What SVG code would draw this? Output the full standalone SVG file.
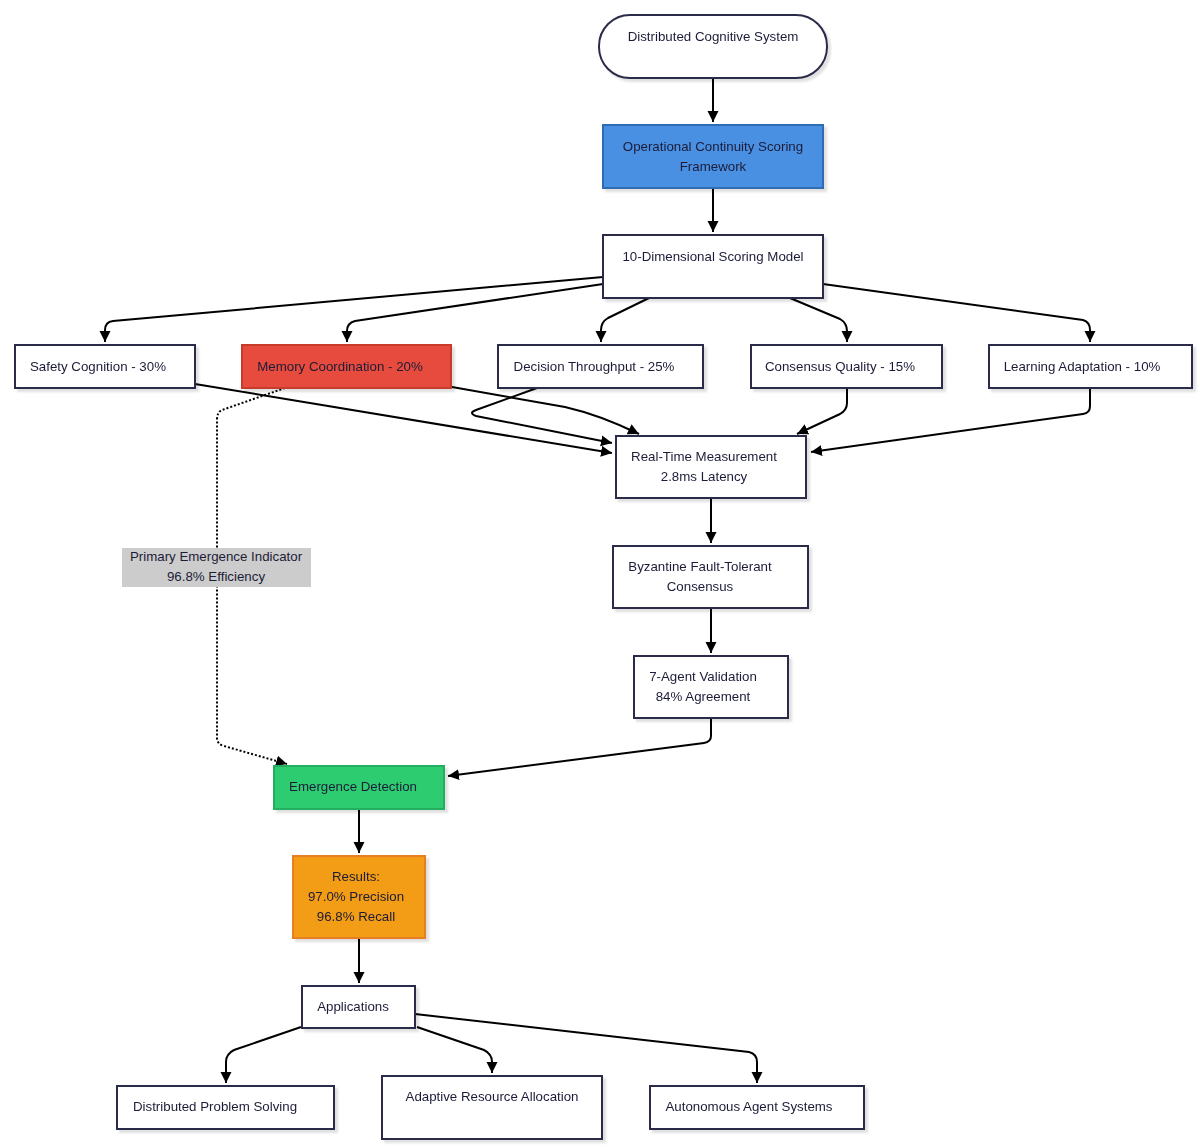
<svg xmlns="http://www.w3.org/2000/svg" width="1200" height="1147" viewBox="0 0 1200 1147">
<style>
.n{fill:#ffffff;stroke:#2b2b4a;stroke-width:2}
.t{font-family:"Liberation Sans",Arial,sans-serif;font-size:13.3px;fill:#1c1c38;text-anchor:middle}
.c{fill:none;stroke:#000;stroke-width:2}
.d{fill:none;stroke:#000;stroke-width:2;stroke-dasharray:2 2}
</style>
<defs>
<marker id="ah" markerUnits="userSpaceOnUse" markerWidth="12" markerHeight="12" refX="11" refY="6" orient="auto">
<path d="M0,0.5 L11,6 L0,11.5 z" fill="#000"/>
</marker>
<filter id="sh" x="-10%" y="-10%" width="130%" height="140%">
<feDropShadow dx="3" dy="3" stdDeviation="1.2" flood-color="#000" flood-opacity="0.12"/>
</filter>
</defs>
<rect width="1200" height="1147" fill="#ffffff"/>
<g id="connectors">
<path class="c" d="M713,78 L713,122" marker-end="url(#ah)"/>
<path class="c" d="M713,189 L713,232" marker-end="url(#ah)"/>
<path class="c" d="M603,277 L113,321 Q105,322 105,330 L105,342" marker-end="url(#ah)"/>
<path class="c" d="M603,284 L355,321 Q347,323 347,331 L347,342" marker-end="url(#ah)"/>
<path class="c" d="M649,298 L608,318 Q601,322 601,330 L601,342" marker-end="url(#ah)"/>
<path class="c" d="M790,298 L840,319 Q847,323 847,331 L847,342" marker-end="url(#ah)"/>
<path class="c" d="M823,284 L1083,320 Q1090,322 1090,330 L1090,342" marker-end="url(#ah)"/>
<path class="c" d="M195,384 L612,453" marker-end="url(#ah)"/>
<path class="c" d="M452,387 L565,407 Q600,415 639,434" marker-end="url(#ah)"/>
<path class="c" d="M537,388 L476,410 Q468,413 476,416 L612,443" marker-end="url(#ah)"/>
<path class="c" d="M847,388 L847,403 Q847,410 840,414 L797,434" marker-end="url(#ah)"/>
<path class="c" d="M1090,388 L1090,406 Q1090,413 1083,414 L811,452" marker-end="url(#ah)"/>
<path class="c" d="M711,498 L711,543" marker-end="url(#ah)"/>
<path class="c" d="M711,608 L711,653" marker-end="url(#ah)"/>
<path class="c" d="M711,719 L711,736 Q711,742 704,743 L448,776" marker-end="url(#ah)"/>
<path class="d" d="M285,388 L222,410 Q217,412 217,420 L217,738 Q217,744 224,746 L287,764" marker-end="url(#ah)"/>
<path class="c" d="M359,809 L359,853" marker-end="url(#ah)"/>
<path class="c" d="M359,939 L359,983" marker-end="url(#ah)"/>
<path class="c" d="M301,1027 L234,1050 Q226,1054 226,1062 L226,1083" marker-end="url(#ah)"/>
<path class="c" d="M417,1027 L484,1050 Q492,1054 492,1062 L492,1073" marker-end="url(#ah)"/>
<path class="c" d="M415,1014 L749,1052 Q757,1054 757,1062 L757,1083" marker-end="url(#ah)"/>
<g id="label-primary">
<rect x="122" y="548" width="189" height="39" fill="#cccccc"/>
<text class="t" x="216" y="561">Primary Emergence Indicator</text>
<text class="t" x="216" y="581">96.8% Efficiency</text>
</g>
</g>
<g id="n-dcs" filter="url(#sh)">
<rect class="n" x="599" y="15" width="228" height="63" rx="31" ry="31"/>
<text class="t" x="713" y="41">Distributed Cognitive System</text>
</g>
<g id="n-ocsf" filter="url(#sh)">
<rect class="n" x="603" y="125" width="220" height="63" style="fill:#4a90e2;stroke:#2f6db3"/>
<text class="t" x="713" y="151">Operational Continuity Scoring</text>
<text class="t" x="713" y="171">Framework</text>
</g>
<g id="n-10d" filter="url(#sh)">
<rect class="n" x="603" y="235" width="220" height="63"/>
<text class="t" x="713" y="261">10-Dimensional Scoring Model</text>
</g>
<g id="n-safety" filter="url(#sh)">
<rect class="n" x="15" y="345" width="180" height="43"/>
<text class="t" x="98" y="371">Safety Cognition - 30%</text>
</g>
<g id="n-memory" filter="url(#sh)">
<rect class="n" x="242" y="345" width="209" height="43" style="fill:#e74c3c;stroke:#c73a2c"/>
<text class="t" x="340" y="371">Memory Coordination - 20%</text>
</g>
<g id="n-decision" filter="url(#sh)">
<rect class="n" x="498" y="345" width="205" height="43"/>
<text class="t" x="594" y="371">Decision Throughput - 25%</text>
</g>
<g id="n-consensus" filter="url(#sh)">
<rect class="n" x="751" y="345" width="191" height="43"/>
<text class="t" x="840" y="371">Consensus Quality - 15%</text>
</g>
<g id="n-learning" filter="url(#sh)">
<rect class="n" x="989" y="345" width="203" height="43"/>
<text class="t" x="1082" y="371">Learning Adaptation - 10%</text>
</g>
<g id="n-rtm" filter="url(#sh)">
<rect class="n" x="616" y="436" width="190" height="62"/>
<text class="t" x="704" y="461">Real-Time Measurement</text>
<text class="t" x="704" y="481">2.8ms Latency</text>
</g>
<g id="n-byz" filter="url(#sh)">
<rect class="n" x="613" y="546" width="195" height="62"/>
<text class="t" x="700" y="571">Byzantine Fault-Tolerant</text>
<text class="t" x="700" y="591">Consensus</text>
</g>
<g id="n-agent" filter="url(#sh)">
<rect class="n" x="634" y="656" width="154" height="62"/>
<text class="t" x="703" y="681">7-Agent Validation</text>
<text class="t" x="703" y="701">84% Agreement</text>
</g>
<g id="n-ed" filter="url(#sh)">
<rect class="n" x="274" y="766" width="170" height="43" style="fill:#2ecc71;stroke:#27ae60"/>
<text class="t" x="353" y="791">Emergence Detection</text>
</g>
<g id="n-results" filter="url(#sh)">
<rect class="n" x="293" y="856" width="132" height="82" style="fill:#f39c12;stroke:#e67e22"/>
<text class="t" x="356" y="881">Results:</text>
<text class="t" x="356" y="901">97.0% Precision</text>
<text class="t" x="356" y="921">96.8% Recall</text>
</g>
<g id="n-apps" filter="url(#sh)">
<rect class="n" x="302" y="986" width="113" height="42"/>
<text class="t" x="353" y="1011">Applications</text>
</g>
<g id="n-dps" filter="url(#sh)">
<rect class="n" x="117" y="1086" width="217" height="43"/>
<text class="t" x="215" y="1111">Distributed Problem Solving</text>
</g>
<g id="n-ara" filter="url(#sh)">
<rect class="n" x="382" y="1076" width="220" height="63"/>
<text class="t" x="492" y="1101">Adaptive Resource Allocation</text>
</g>
<g id="n-aas" filter="url(#sh)">
<rect class="n" x="650" y="1086" width="214" height="43"/>
<text class="t" x="749" y="1111">Autonomous Agent Systems</text>
</g>
</svg>
